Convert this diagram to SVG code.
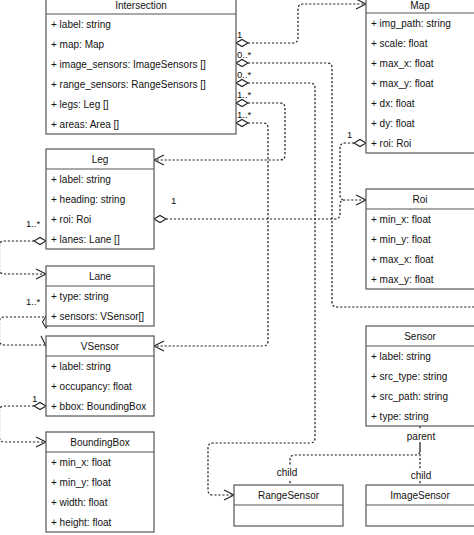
<svg xmlns="http://www.w3.org/2000/svg" width="474" height="535" viewBox="0 0 474 535">
<style>
.box{fill:#fff;stroke:#555;stroke-width:1.2}
.sep{stroke:#555;stroke-width:1.2}
text{font-family:"Liberation Sans",Arial,sans-serif;font-size:10px;fill:#111}
.h{text-anchor:middle}
.m{font-size:9.5px}
.c{fill:none;stroke:#222;stroke-width:1.2;stroke-dasharray:2.2 1.8}
.a{fill:none;stroke:#222;stroke-width:1.1}
.d{fill:#fff;stroke:#222;stroke-width:1.1}
</style>
<rect width="474" height="535" fill="#fff"/>
<g id="connectors">
<path class="c" d="M248,43 H293 Q298,43 298,38 V9 Q298,4 303,4 H365"/>
<path class="c" d="M248,63 H327 Q332,63 332,68 V302 Q332,307 337,307 H476"/>
<path class="c" d="M248,83 H310 Q315,83 315,88 V438 Q315,443 310,443 H213 Q208,443 208,448 V490 Q208,495 213,495 H233"/>
<path class="c" d="M248,103 H280 Q285,103 285,108 V155 Q285,160 280,160 H155"/>
<path class="c" d="M248,123 H263 Q268,123 268,128 V341 Q268,346 263,346 H155"/>
<path class="c" d="M166,219 H335 Q340,219 340,214 V205 Q340,200 345,200 H365"/>
<path class="c" d="M354,143 H345 Q340,143 340,148 V195 Q340,200 345,200"/>
<path class="c" d="M34,241 H4 Q-0.5,241 -0.5,246 V269 Q-0.5,274 4,274 H45"/>
<path class="c" d="M44,317 H4 Q-0.5,317 -0.5,322 V340 Q-0.5,345 4,345 H45"/>
<path class="c" d="M34,406 H4 Q-0.5,406 -0.5,411 V437 Q-0.5,442 4,442 H45"/>
<path class="c" d="M420,426 V430 M420,442 V470 M420,481 V485"/>
<path class="c" d="M420,444 V450 Q420,455 415,455 H295 Q290,455 290,460 V466 M290,481 V485"/>
<polyline class="a" points="356,-1 366,4 356,9"/>
<polyline class="a" points="164,155 154,160 164,165"/>
<polyline class="a" points="164,341 154,346 164,351"/>
<polyline class="a" points="356,195 366,200 356,205"/>
<polyline class="a" points="224,490 234,495 224,500"/>
<polyline class="a" points="36,269 46,274 36,279"/>
<polyline class="a" points="41,336 46,346 51,336"/>
<polyline class="a" points="36,437 46,442 36,447"/>
<polygon class="d" points="236,43 242,39.5 248,43 242,46.5"/>
<polygon class="d" points="236,63 242,59.5 248,63 242,66.5"/>
<polygon class="d" points="236,83 242,79.5 248,83 242,86.5"/>
<polygon class="d" points="236,103 242,99.5 248,103 242,106.5"/>
<polygon class="d" points="236,123 242,119.5 248,123 242,126.5"/>
<polygon class="d" points="154,219 160,215.5 166,219 160,222.5"/>
<polygon class="d" points="366,143 360,139.5 354,143 360,146.5"/>
<polygon class="d" points="46,241 40,237.5 34,241 40,244.5"/>
<polygon class="d" points="46,316 49.5,322 46,328 42.5,322"/>
<polygon class="d" points="46,406 40,402.5 34,406 40,409.5"/>
<text class="m" x="237" y="38">1</text>
<text class="m" x="237" y="58">0..*</text>
<text class="m" x="237" y="78">0..*</text>
<text class="m" x="237" y="98">1..*</text>
<text class="m" x="237" y="118">1..*</text>
<text class="m" x="171" y="204">1</text>
<text class="m" x="347" y="138">1</text>
<text class="m" x="26" y="227">1..*</text>
<text class="m" x="26" y="305">1..*</text>
<text class="m" x="32" y="402">1</text>
<text class="h" x="421" y="440">parent</text>
<text class="h" x="421" y="479">child</text>
<text class="h" x="287" y="476">child</text>
</g>
<g id="Intersection">
<rect class="box" x="46" y="-6" width="190" height="140"/>
<line class="sep" x1="46" y1="14" x2="236" y2="14"/>
<text class="h" x="141" y="9">Intersection</text>
<text x="51" y="28">+ label: string</text>
<text x="51" y="48">+ map: Map</text>
<text x="51" y="68">+ image_sensors: ImageSensors []</text>
<text x="51" y="88">+ range_sensors: RangeSensors []</text>
<text x="51" y="108">+ legs: Leg []</text>
<text x="51" y="128">+ areas: Area []</text>
</g>
<g id="Map">
<rect class="box" x="366" y="-7" width="110" height="160"/>
<line class="sep" x1="366" y1="13" x2="476" y2="13"/>
<text class="h" x="420" y="9">Map</text>
<text x="371" y="27">+ img_path: string</text>
<text x="371" y="47">+ scale: float</text>
<text x="371" y="67">+ max_x: float</text>
<text x="371" y="87">+ max_y: float</text>
<text x="371" y="107">+ dx: float</text>
<text x="371" y="127">+ dy: float</text>
<text x="371" y="147">+ roi: Roi</text>
</g>
<g id="Leg">
<rect class="box" x="46" y="149" width="108" height="100"/>
<line class="sep" x1="46" y1="169" x2="154" y2="169"/>
<text class="h" x="100" y="163">Leg</text>
<text x="51" y="183">+ label: string</text>
<text x="51" y="203">+ heading: string</text>
<text x="51" y="223">+ roi: Roi</text>
<text x="51" y="243">+ lanes: Lane []</text>
</g>
<g id="Roi">
<rect class="box" x="366" y="189" width="110" height="100"/>
<line class="sep" x1="366" y1="209" x2="476" y2="209"/>
<text class="h" x="420" y="203">Roi</text>
<text x="371" y="223">+ min_x: float</text>
<text x="371" y="243">+ min_y: float</text>
<text x="371" y="263">+ max_x: float</text>
<text x="371" y="283">+ max_y: float</text>
</g>
<g id="Lane">
<rect class="box" x="46" y="266" width="108" height="60"/>
<line class="sep" x1="46" y1="286" x2="154" y2="286"/>
<text class="h" x="100" y="280">Lane</text>
<text x="51" y="300">+ type: string</text>
<text x="51" y="320">+ sensors: VSensor[]</text>
</g>
<g id="VSensor">
<rect class="box" x="46" y="336" width="108" height="80"/>
<line class="sep" x1="46" y1="356" x2="154" y2="356"/>
<text class="h" x="100" y="350">VSensor</text>
<text x="51" y="370">+ label: string</text>
<text x="51" y="390">+ occupancy: float</text>
<text x="51" y="410">+ bbox: BoundingBox</text>
</g>
<g id="Sensor">
<rect class="box" x="366" y="326" width="110" height="100"/>
<line class="sep" x1="366" y1="346" x2="476" y2="346"/>
<text class="h" x="420" y="340">Sensor</text>
<text x="371" y="360">+ label: string</text>
<text x="371" y="380">+ src_type: string</text>
<text x="371" y="400">+ src_path: string</text>
<text x="371" y="420">+ type: string</text>
</g>
<g id="BoundingBox">
<rect class="box" x="46" y="432" width="108" height="100"/>
<line class="sep" x1="46" y1="452" x2="154" y2="452"/>
<text class="h" x="100" y="446">BoundingBox</text>
<text x="51" y="466">+ min_x: float</text>
<text x="51" y="486">+ min_y: float</text>
<text x="51" y="506">+ width: float</text>
<text x="51" y="526">+ height: float</text>
</g>
<g id="RangeSensor">
<rect class="box" x="234" y="485" width="109" height="41"/>
<line class="sep" x1="234" y1="505" x2="343" y2="505"/>
<text class="h" x="288.5" y="499">RangeSensor</text>
</g>
<g id="ImageSensor">
<rect class="box" x="366" y="485" width="110" height="41"/>
<line class="sep" x1="366" y1="505" x2="476" y2="505"/>
<text class="h" x="420" y="499">ImageSensor</text>
</g>
</svg>
